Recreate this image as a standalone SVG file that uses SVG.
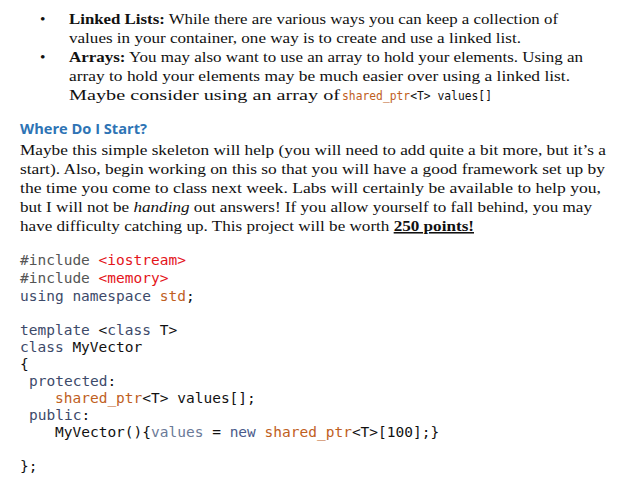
<svg xmlns="http://www.w3.org/2000/svg" width="631" height="489" viewBox="0 0 631 489">
<style>
.t{font-family:"Liberation Serif","DejaVu Serif",serif;font-size:15.5px;fill:#111}
.b{font-weight:bold}
.m{font-family:"DejaVu Sans Mono",monospace;font-size:14.5px;fill:#111}
.g{fill:#555}.r{fill:#e4141b}.k{fill:#3d4a6a}.o{fill:#c0601e}.v{fill:#6b7a98}.n{fill:#4a5a8a}
.h{font-family:"Open Sans","Liberation Sans",sans-serif;font-size:13.5px;font-weight:bold;fill:#2e74b5}
</style>
<rect width="631" height="489" fill="#fff"/>
<g id="bullets">
<text class="t" x="40" y="24">•</text>
<text class="t" x="69" y="24" textLength="489" lengthAdjust="spacingAndGlyphs"><tspan class="b">Linked Lists:</tspan> While there are various ways you can keep a collection of</text>
<text class="t" x="69" y="43" textLength="452" lengthAdjust="spacingAndGlyphs">values in your container, one way is to create and use a linked list.</text>
<text class="t" x="40" y="62">•</text>
<text class="t" x="69" y="62" textLength="514" lengthAdjust="spacingAndGlyphs"><tspan class="b">Arrays:</tspan> You may also want to use an array to hold your elements.  Using an</text>
<text class="t" x="69" y="81" textLength="501" lengthAdjust="spacingAndGlyphs">array to hold your elements may be much easier over using a linked list.</text>
<text class="t" x="69" y="100" textLength="271" lengthAdjust="spacingAndGlyphs">Maybe consider using an array of</text>
<text class="m" x="342" y="100" style="font-size:11.5px" textLength="150" lengthAdjust="spacingAndGlyphs"><tspan class="o">shared_ptr</tspan>&lt;T&gt; values[]</text>
</g>
<g id="start">
<text class="h" x="20" y="134" textLength="127" lengthAdjust="spacingAndGlyphs">Where Do I Start?</text>
<text class="t" x="20" y="155" textLength="586" lengthAdjust="spacingAndGlyphs">Maybe this simple skeleton will help (you will need to add quite a bit more, but it’s a</text>
<text class="t" x="20" y="174" textLength="585" lengthAdjust="spacingAndGlyphs">start).  Also, begin working on this so that you will have a good framework set up by</text>
<text class="t" x="20" y="193" textLength="581" lengthAdjust="spacingAndGlyphs">the time you come to class next week.  Labs will certainly be available to help you,</text>
<text class="t" x="20" y="212" textLength="572" lengthAdjust="spacingAndGlyphs">but I will not be <tspan font-style="italic">handing</tspan> out answers!  If you allow yourself to fall behind, you may</text>
<text class="t" x="20" y="231" textLength="454" lengthAdjust="spacingAndGlyphs">have difficulty catching up.  This project will be worth <tspan class="b" text-decoration="underline">250 points!</tspan></text>
</g>
<g id="code" class="m">
<text class="m" x="20" y="265"><tspan class="g">#include</tspan> <tspan class="r">&lt;iostream&gt;</tspan></text>
<text class="m" x="20" y="283"><tspan class="g">#include</tspan> <tspan class="r">&lt;memory&gt;</tspan></text>
<text class="m" x="20" y="301"><tspan class="k">using namespace</tspan> <tspan class="o">std</tspan>;</text>
<text class="m" x="20" y="335"><tspan class="k">template</tspan> &lt;<tspan class="k">class</tspan> T&gt;</text>
<text class="m" x="20" y="352"><tspan class="k">class</tspan> MyVector</text>
<text class="m" x="20" y="369">{</text>
<text class="m" x="29" y="386"><tspan class="k">protected</tspan>:</text>
<text class="m" x="55" y="403"><tspan class="o">shared_ptr</tspan>&lt;T&gt; values[];</text>
<text class="m" x="29" y="420"><tspan class="k">public</tspan>:</text>
<text class="m" x="55" y="437">MyVector(){<tspan class="v">values</tspan> = <tspan class="n">new</tspan> <tspan class="o">shared_ptr</tspan>&lt;T&gt;[100];}</text>
<text class="m" x="20" y="471">};</text>
</g>
</svg>
